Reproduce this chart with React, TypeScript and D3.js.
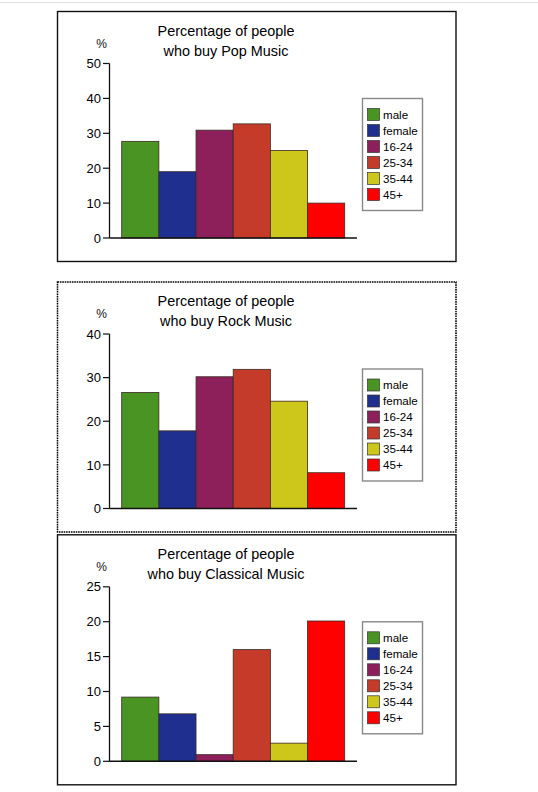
import React from "react";
import * as d3 from "d3";

const categories = ["male", "female", "16-24", "25-34", "35-44", "45+"];
const colors = ["#4a9423", "#1f2f8f", "#8d1f5b", "#c43b2a", "#cdc71b", "#ff0000"];

const popValues = [27.7, 19.0, 30.9, 32.7, 25.1, 10];
const rockValues = [26.6, 17.8, 30.2, 31.9, 24.6, 8.2];
const classicalValues = [9.2, 6.8, 0.95, 16.0, 2.6, 20.1];

const popTicks = [0, 10, 20, 30, 40, 50];
const rockTicks = [0, 10, 20, 30, 40];
const classicalTicks = [0, 5, 10, 15, 20, 25];

const titles = ["who buy Pop Music", "who buy Rock Music", "who buy Classical Music"];

const FONT = "Arial, 'Liberation Sans', Helvetica, sans-serif";

type PanelProps = {
  top: number;
  values: number[];
  ticks: number[];
  title: string;
  dotted?: boolean;
};

function Panel({ top, values, ticks, title, dotted }: PanelProps) {
  const boxX = 57.5;
  const boxW = 398.5;
  const boxH = 250;
  const zeroY = top + 226.5;
  const topY = top + 52;
  const axisX = 109.5;
  const axisEnd = 357;
  const y = d3.scaleLinear().domain([0, d3.max(ticks) as number]).range([zeroY, topY]);
  const x = d3.scaleBand<string>().domain(categories).range([121.7, 344.7]).padding(0);
  const legX = 362.5;
  const legY = top + 87;
  return (
    <g>
      <rect
        x={boxX}
        y={top}
        width={boxW}
        height={boxH}
        fill="#fff"
        stroke={dotted ? "#000" : "#111"}
        strokeWidth={dotted ? 1.5 : 1.4}
        strokeDasharray={dotted ? "1.6,0.8" : undefined}
      />
      <text x={226} y={top + 24} textAnchor="middle" fontSize={14.4} fontFamily={FONT} fill="#000">
        Percentage of people
      </text>
      <text x={226} y={top + 44} textAnchor="middle" fontSize={14.4} fontFamily={FONT} fill="#000">
        {title}
      </text>
      <text x={101.5} y={top + 36} textAnchor="middle" fontSize={12} fontFamily={FONT} fill="#111">
        %
      </text>
      {values.map((v, i) => (
        <rect
          key={categories[i]}
          x={x(categories[i])}
          y={y(v)}
          width={x.bandwidth()}
          height={zeroY - y(v)}
          fill={colors[i]}
          stroke="#3a2a22"
          strokeWidth={0.8}
        />
      ))}
      <line x1={axisX} x2={axisX} y1={topY} y2={zeroY} stroke="#111" strokeWidth={1.3} />
      <line x1={axisX} x2={axisEnd} y1={zeroY} y2={zeroY} stroke="#111" strokeWidth={1.5} />
      {ticks.map((t) => (
        <g key={t}>
          <line x1={axisX - 6.5} x2={axisX} y1={y(t)} y2={y(t)} stroke="#111" strokeWidth={1.2} />
          <text
            x={axisX - 8.5}
            y={y(t)}
            dy="0.36em"
            textAnchor="end"
            fontSize={13}
            fontFamily={FONT}
            fill="#000"
          >
            {t}
          </text>
        </g>
      ))}
      <rect x={legX} y={legY} width={60} height={112} fill="#fff" stroke="#888" strokeWidth={1.4} />
      {categories.map((c, i) => {
        const cy = legY + 16 + i * 16;
        return (
          <g key={c}>
            <rect x={legX + 5} y={cy - 6} width={12} height={12} fill={colors[i]} stroke="#333" strokeWidth={0.7} />
            <text x={legX + 20.5} y={cy} dy="0.36em" fontSize={11.6} fontFamily={FONT} fill="#000">
              {c}
            </text>
          </g>
        );
      })}
    </g>
  );
}

export default function App() {
  return (
    <svg
      width={538}
      height={792}
      style={{ position: "absolute", left: 0, top: 0, background: "#fff" }}
    >
      <rect x={0} y={0} width={538} height={792} fill="#fff" />
      <line x1={0} x2={538} y1={2.5} y2={2.5} stroke="#e2e2e2" strokeWidth={1} />
      <Panel top={11.5} values={popValues} ticks={popTicks} title={titles[0]} />
      <Panel top={282} values={rockValues} ticks={rockTicks} title={titles[1]} dotted />
      <Panel top={534.8} values={classicalValues} ticks={classicalTicks} title={titles[2]} />
    </svg>
  );
}
